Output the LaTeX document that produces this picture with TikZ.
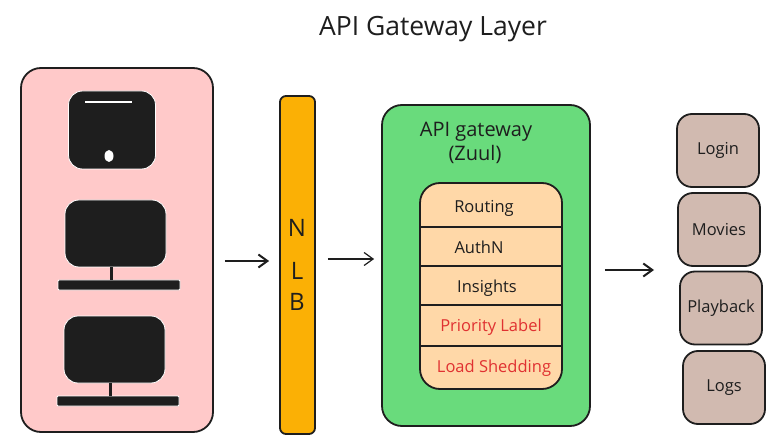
\documentclass[tikz,border=0pt]{standalone}
\usepackage{fontspec}
\setmainfont{Open Sans}
\usetikzlibrary{arrows.meta,shapes.geometric}
\definecolor{inkblack}{HTML}{1E1E1E}
\definecolor{clientpink}{HTML}{FFC9C9}
\definecolor{nlborange}{HTML}{FBB005}
\definecolor{gatewaygreen}{HTML}{69DB7C}
\definecolor{filterpeach}{HTML}{FFD8A8}
\definecolor{servicebrown}{HTML}{D1BAB0}
\definecolor{shedred}{HTML}{E03131}
\tikzset{
  panel/.style={draw=inkblack,line width=1.8pt,rounded corners=#1,inner sep=0pt},
  device/.style={draw=white,fill=inkblack,line width=0.8pt,inner sep=0pt},
  boxtext/.style={text=inkblack,font=\fontsize{16.5}{19}\selectfont,inner sep=0pt},
  service/.style={panel=15pt,fill=servicebrown,minimum width=82pt,minimum height=73pt,boxtext},
  flow/.style={draw=inkblack,line width=2pt,-{Straight Barb[length=9pt,width=13pt]}}
}
\begin{document}
\begin{tikzpicture}[x=1pt,y=-1pt]
  \useasboundingbox (0,0) rectangle (784,438);
  \node[boxtext,font=\fontsize{26.5}{30}\selectfont] (title) at (433,29) {API Gateway Layer};
  % clients
  \node[panel=20pt,fill=clientpink,minimum width=192pt,minimum height=364pt] (clients) at (117,250) {};
  \node[device,rounded corners=14pt,minimum width=87pt,minimum height=78pt] (tablet) at (112,130) {};
  \node[fill=white,inner sep=0pt,minimum width=47pt,minimum height=2pt] (tabletbar) at (108,102) {};
  \node[fill=white,ellipse,minimum width=9pt,minimum height=12pt,inner sep=0pt] (tabletdot) at (109,156) {};
  \node[device,rounded corners=14pt,minimum width=101pt,minimum height=67pt] (screena) at (115.5,233.5) {};
  \node[device,rounded corners=1pt,minimum width=122pt,minimum height=10pt] (basea) at (119,285) {};
  \node[device,rounded corners=14pt,minimum width=101pt,minimum height=67pt] (screenb) at (114.5,349.5) {};
  \node[device,rounded corners=1pt,minimum width=122pt,minimum height=10pt] (baseb) at (118,401) {};
  \draw[inkblack,line width=3pt] (screena.south -| 111,0) -- (basea.north -| 111,0);
  \draw[inkblack,line width=3pt] (screenb.south -| 110,0) -- (baseb.north -| 110,0);
  % load balancer
  \node[panel=6pt,fill=nlborange,minimum width=35pt,minimum height=338pt] (nlb) at (297.5,265) {};
  \node[boxtext,font=\fontsize{24}{28}\selectfont] (nlbn) at (297,228) {N};
  \node[boxtext,font=\fontsize{24}{28}\selectfont] (nlbl) at (297,271) {L};
  \node[boxtext,font=\fontsize{24}{28}\selectfont] (nlbb) at (297,302) {B};
  % gateway
  \node[panel=20pt,fill=gatewaygreen,minimum width=208pt,minimum height=321pt] (gateway) at (486,265.5) {};
  \node[boxtext,font=\fontsize{20}{24}\selectfont] (gatewayname) at (476,132) {API gateway};
  \node[boxtext,font=\fontsize{20}{24}\selectfont] (gatewayzuul) at (475,154) {(Zuul)};
  \node[panel=20pt,fill=filterpeach,minimum width=142pt,minimum height=206pt] (filters) at (491,286) {};
  \foreach \y in {227,266,305,346}
    \draw[inkblack,line width=1.8pt] (filters.west |- 0,\y) -- (filters.east |- 0,\y);
  \node[boxtext] (routing) at (484,208) {Routing};
  \node[boxtext] (authn) at (479,247) {AuthN};
  \node[boxtext] (insights) at (487,288) {Insights};
  \node[boxtext,text=shedred] (priority) at (491,327) {Priority Label};
  \node[boxtext,text=shedred] (shedding) at (494,368) {Load Shedding};
  % services
  \node[service] (login) at (718,150.5) {Login};
  \node[service] (movies) at (719,229.5) {Movies};
  \node[service] (playback) at (721,308) {Playback};
  \node[service] (logs) at (724,387.5) {Logs};
  % arrows
  \coordinate (servicesin) at (654,270);
  \draw[flow] (clients.east |- 0,261) ++(11,0) -- ([xshift=-10pt]nlb.west |- 0,261);
  \draw[flow,line width=1.2pt] (nlb.east |- 0,259) ++(12,0) -- ([xshift=-7pt]gateway.west |- 0,259);
  \draw[flow] (gateway.east |- servicesin) ++(14,0) -- (servicesin);
\end{tikzpicture}
\end{document}
